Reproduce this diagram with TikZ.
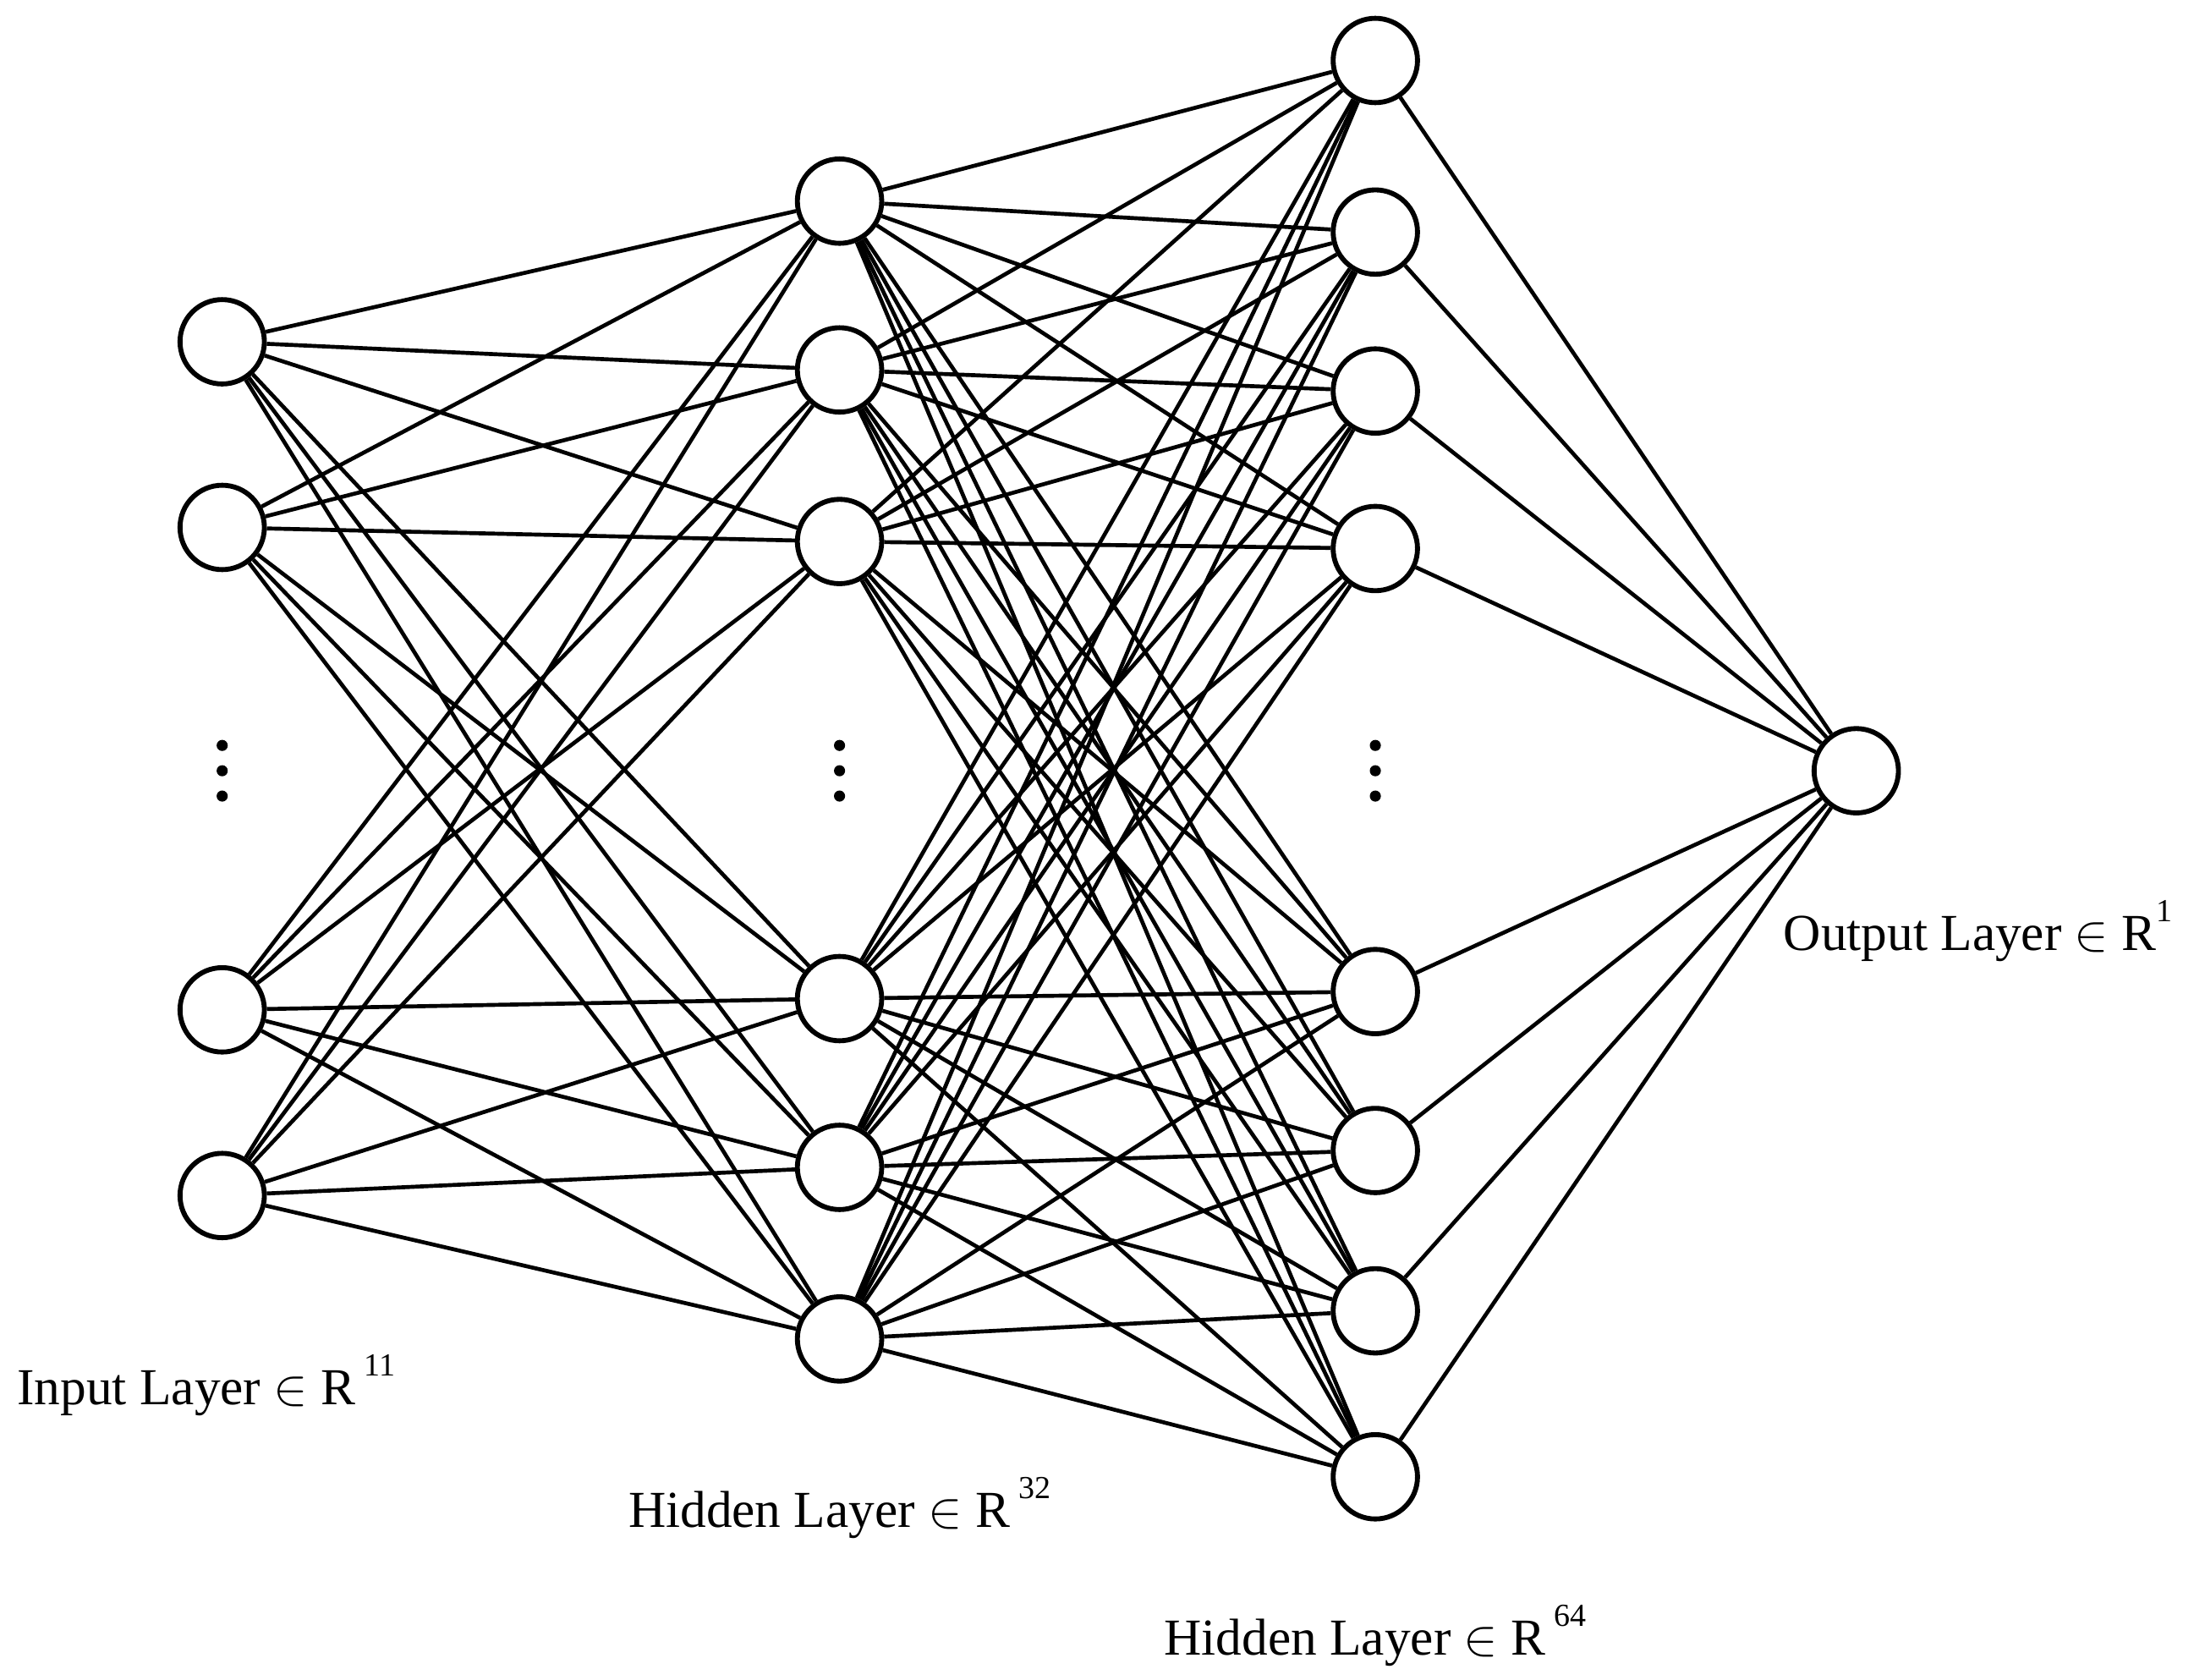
\documentclass[tikz,border=0pt]{standalone}
\usepackage{fontspec}
\setmainfont{Liberation Serif}
\newcommand{\supnum}[1]{\raisebox{0.55em}{\fontsize{13}{15}\selectfont #1}}
\begin{document}
\begin{tikzpicture}[x=0.02cm,y=-0.02cm,
  neuron/.style={circle,draw,line width=2pt,minimum size=1.2cm,inner sep=0pt,fill=white},
  conn/.style={line width=1.6pt},
  lab/.style={font=\fontsize{21}{25}\selectfont,inner sep=0pt},
  dot/.style={circle,fill,inner sep=0pt,minimum size=4.5pt}]
\useasboundingbox (0,0) rectangle (1568,1194);
\foreach \i/\y in {1/243,2/375,3/718,4/850} \node[neuron] (a\i) at (158,\y) {};
\foreach \i/\y in {1/143,2/263,3/385,4/710,5/830,6/952} \node[neuron] (b\i) at (597,\y) {};
\foreach \i/\y in {1/43,2/165,3/278,4/390,5/705,6/818,7/932,8/1050} \node[neuron] (c\i) at (978,\y) {};
\node[neuron] (o) at (1320,548) {};
\foreach \i in {1,...,4} \foreach \j in {1,...,6} \draw[conn] (a\i) -- (b\j);
\foreach \i in {1,...,6} \foreach \j in {1,...,8} \draw[conn] (b\i) -- (c\j);
\foreach \j in {1,...,8} \draw[conn] (c\j) -- (o);
\foreach \x/\n in {158/p,597/q,978/r}{
  \node[dot] (\n1) at (\x,530) {};
  \node[dot] (\n2) at (\x,548) {};
  \node[dot] (\n3) at (\x,566) {};}
\node[lab,anchor=west] (l1) at (12,985) {Input Layer $\in$ R\,\supnum{11}};
\node[lab] (l2) at (597,1072) {Hidden Layer $\in$ R\,\supnum{32}};
\node[lab] (l3) at (978,1163) {Hidden Layer $\in$ R\,\supnum{64}};
\node[lab,anchor=west] (l4) at (1268,662) {Output Layer $\in$ R\supnum{1}};
\end{tikzpicture}
\end{document}
